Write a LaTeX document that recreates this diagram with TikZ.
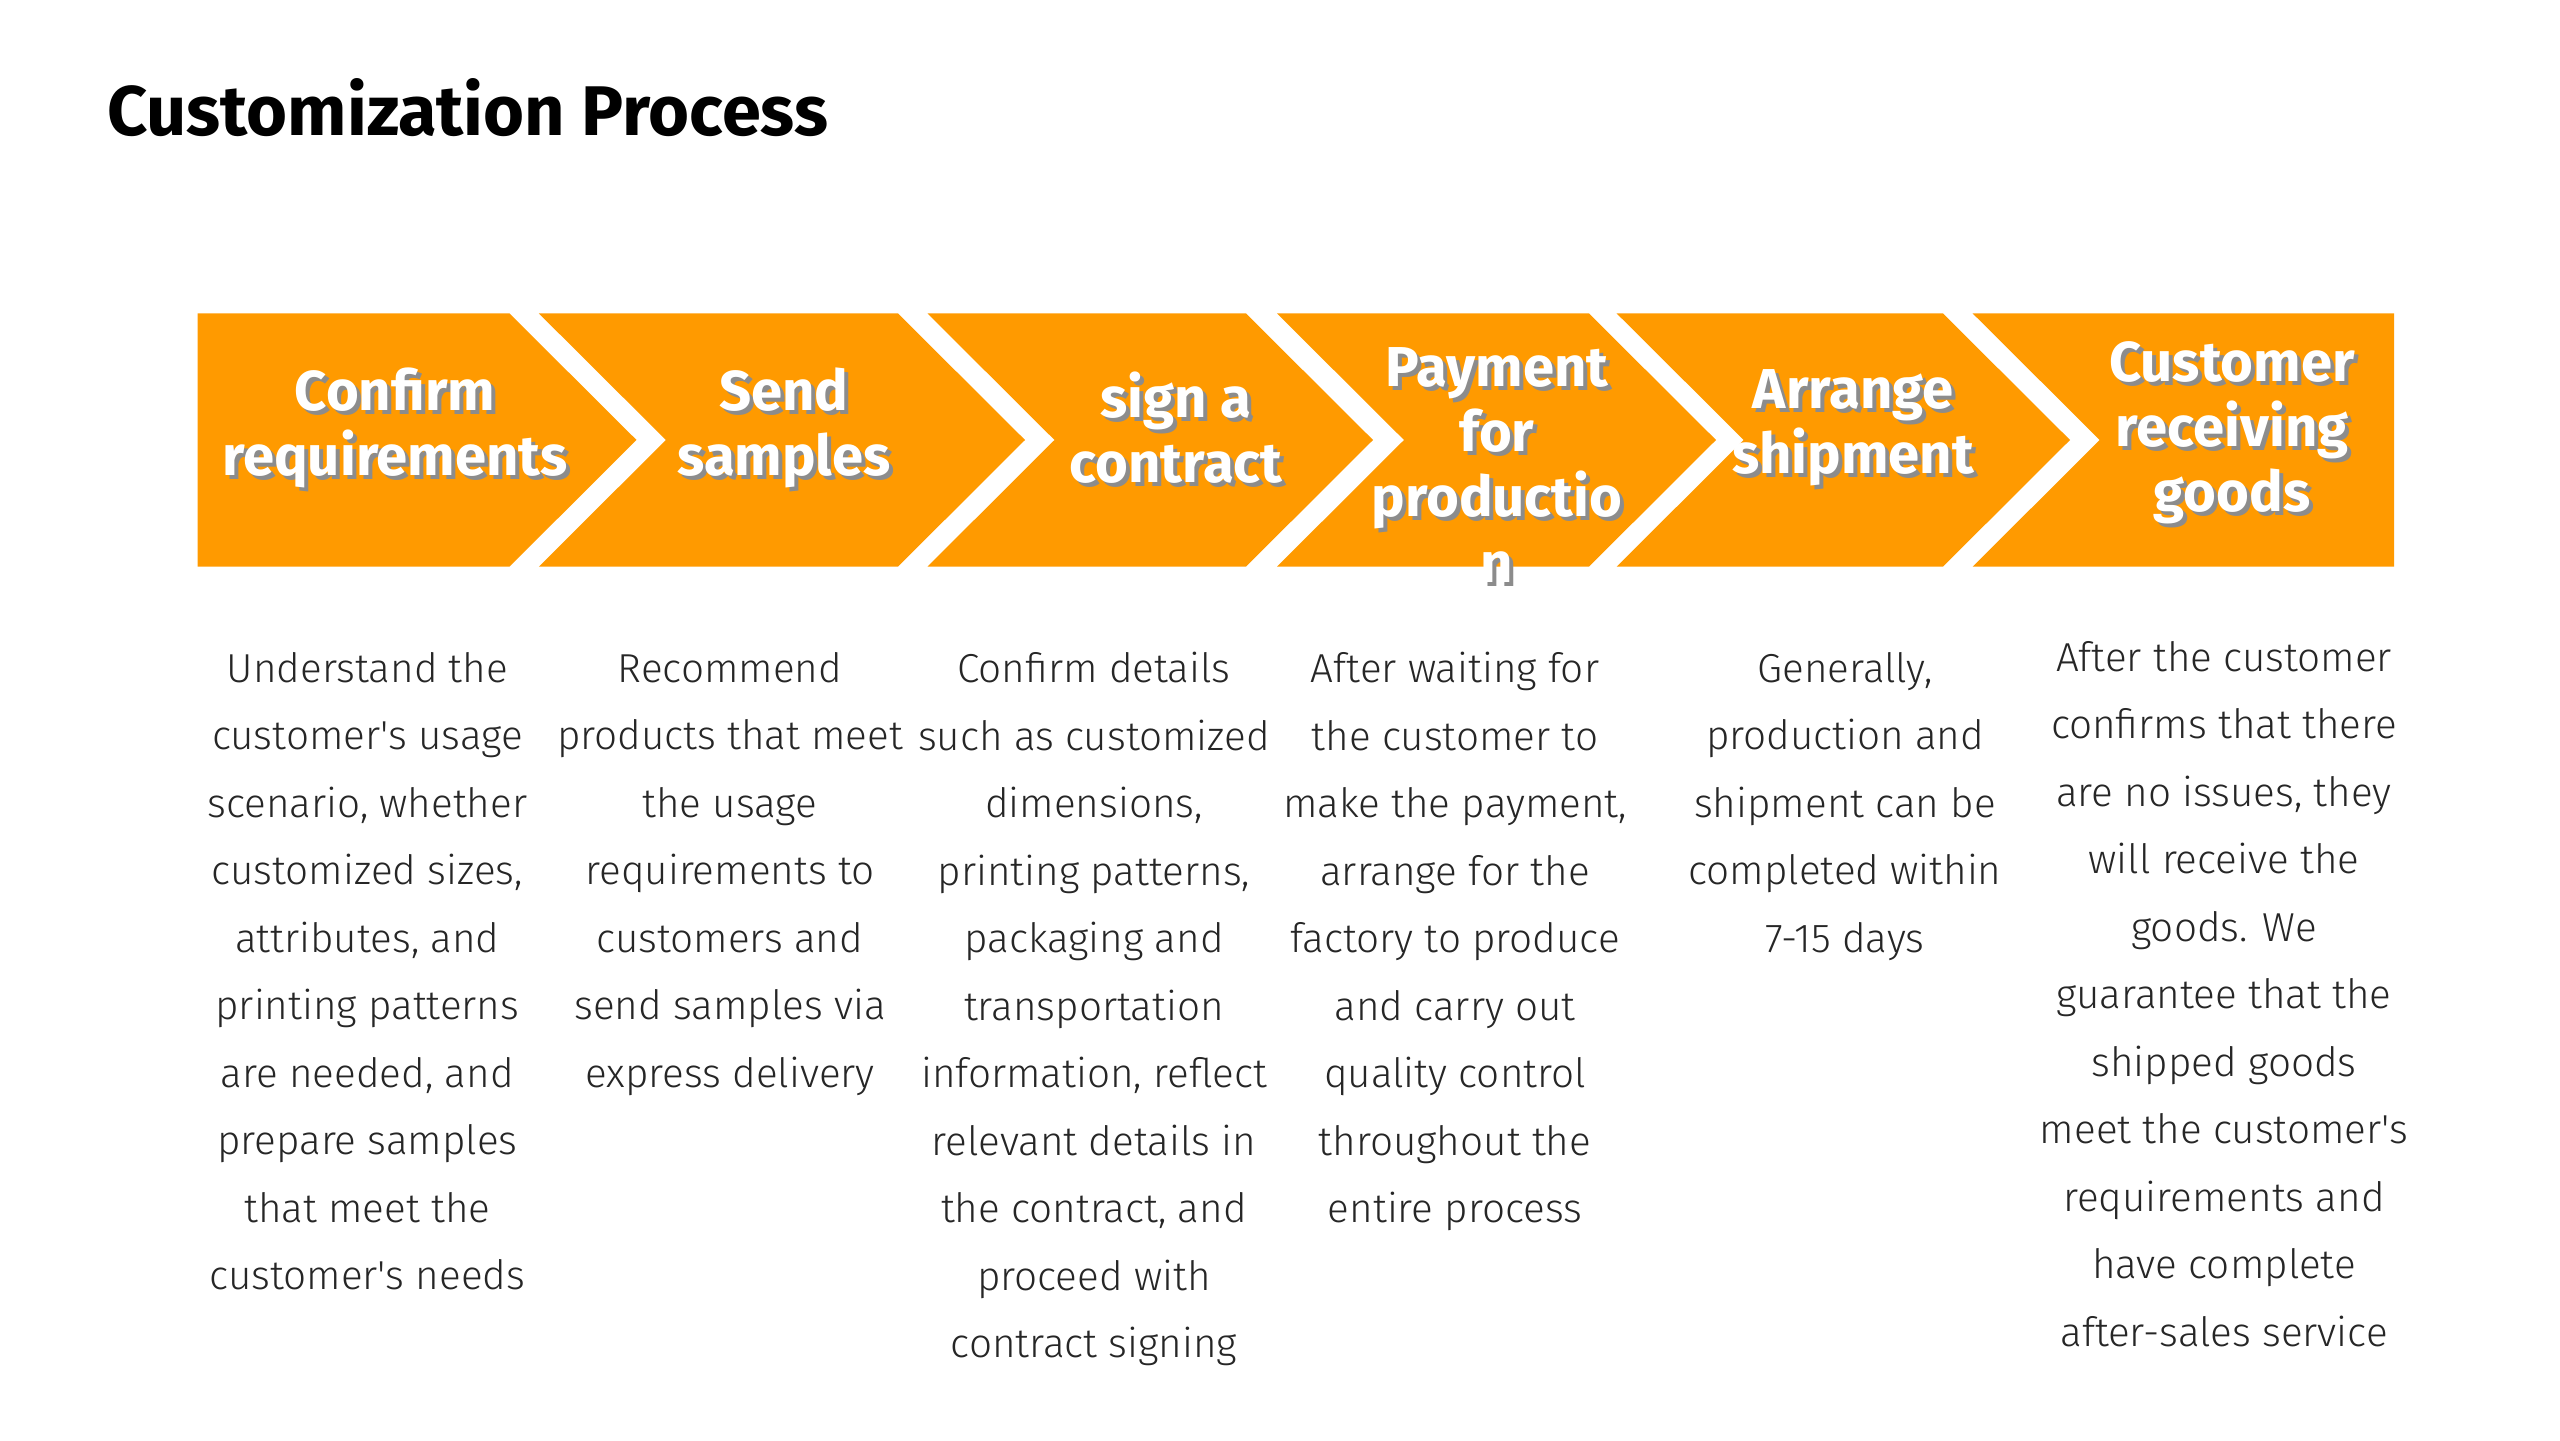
\documentclass[tikz,border=0pt]{standalone}
\usepackage{fontspec}
\setmainfont{Fira Sans}
\newfontfamily\lightf{Fira Sans Light}
\begin{document}
\begin{tikzpicture}
\definecolor{org}{HTML}{FF9A00}
\tikzset{
 chev/.style={fill=org,draw=none},
 head/.style={text=white,font=\fontsize{16}{18.5}\selectfont\bfseries,align=center},
 headsh/.style={text=black!45,font=\fontsize{16}{18.5}\selectfont\bfseries,align=center},
 body/.style={font=\lightf\fontsize{11.5}{19.2}\selectfont,align=center,anchor=north,text=black!85}
}
\useasboundingbox (0,0) rectangle (25.6,14.4);
\node[anchor=west,font=\fontsize{20}{24}\selectfont\bfseries] (title) at (0.95,13.32) {Customization Process};
\def\T{11.265}\def\B{8.734}\def\M{10.0}\def\d{1.27}
\fill[chev] (1.976,\T) -- (5.095,\T) -- (5.095+\d,\M) -- (5.095,\B) -- (1.976,\B) -- cycle;
\foreach \l/\r in {5.389/8.98, 9.275/12.46, 12.77/15.89, 16.167/19.43}
  \fill[chev] (\l,\T) -- (\r,\T) -- (\r+\d,\M) -- (\r,\B) -- (\l,\B) -- (\l+\d,\M) -- cycle;
\fill[chev] (19.727,\T) -- (23.94,\T) -- (23.94,\B) -- (19.727,\B) -- (19.727+\d,\M) -- cycle;
\foreach \x/\y/\t [count=\i] in {3.95/10.12/{Confirm\\requirements}, 7.84/10.12/{Send\\samples}, 11.76/10.12/{sign a\\contract}, 14.97/9.75/{Payment\\for\\productio\\n}, 18.53/10.12/{Arrange\\shipment}, 22.32/10.07/{Customer\\receiving\\goods}}{
  \node[headsh] at (\x+0.04,\y-0.04) {\t};
  \node[head] (h\i) at (\x,\y) {\t};
}
\node[body] (b1) at (3.674,8.0) {Understand the\\customer's usage\\scenario, whether\\customized sizes,\\attributes, and\\printing patterns\\are needed, and\\prepare samples\\that meet the\\customer's needs};
\node[body] (b2) at (7.30,8.0) {Recommend\\products that meet\\the usage\\requirements to\\customers and\\send samples via\\express delivery};
\node[body] (b3) at (10.94,8.0) {Confirm details\\such as customized\\dimensions,\\printing patterns,\\packaging and\\transportation\\information, reflect\\relevant details in\\the contract, and\\proceed with\\contract signing};
\node[body] (b4) at (14.55,8.0) {After waiting for\\the customer to\\make the payment,\\arrange for the\\factory to produce\\and carry out\\quality control\\throughout the\\entire process};
\node[body] (b5) at (18.45,8.0) {Generally,\\production and\\shipment can be\\completed within\\7-15 days};
\node[body] (b6) at (22.24,8.11) {After the customer\\confirms that there\\are no issues, they\\will receive the\\goods. We\\guarantee that the\\shipped goods\\meet the customer's\\requirements and\\have complete\\after-sales service};
\end{tikzpicture}
\end{document}
